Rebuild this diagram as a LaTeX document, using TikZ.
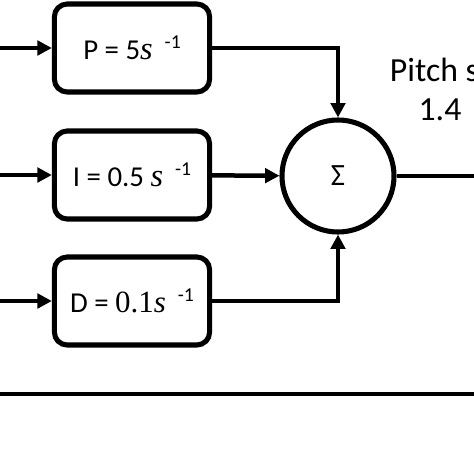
\documentclass[tikz,border=0pt]{standalone}
\usepackage{fontspec}
\setmainfont{Carlito}
\newfontfamily\cambriafont{Liberation Serif}
\usetikzlibrary{arrows.meta}

\newcommand{\sunit}[1]{{\cambriafont\fontsize{23}{23}\selectfont\itshape #1}}
\newcommand{\invexp}{\hspace{0.3cm}\raisebox{0.27cm}{\fontsize{14}{14}\selectfont -1}}

\begin{document}
\begin{tikzpicture}[x=0.025cm, y=-0.025cm, line width=3.2pt,
    gainbox/.style={draw, line width=3.6pt, rounded corners=0.32cm,
        minimum width=3.88cm, minimum height=2.2cm, inner sep=0pt,
        font=\fontsize{20.5}{22}\selectfont},
    sumnode/.style={draw, circle, line width=3.6pt, minimum size=2.8cm,
        inner sep=0pt, font=\fontsize{22}{24}\selectfont},
    sig/.style={-{Triangle[length=0.36cm, width=0.36cm]}}]
    \useasboundingbox (0, 0) rectangle (474, 474);

    % gain blocks
    \node[gainbox] (pgain) at (132, 48)  {P = 5\sunit{s}\invexp};
    \node[gainbox] (igain) at (132, 175) {I = 0.5 \sunit{s}\invexp};
    \node[gainbox] (dgain) at (132, 301) {D = {\cambriafont\fontsize{22}{22}\selectfont 0.1\itshape s}\invexp};

    % summing junction
    \node[sumnode] (sum) at (338, 176) {Σ};

    % inputs
    \coordinate (pin) at (0, 48);
    \coordinate (iin) at (0, 175);
    \coordinate (din) at (0, 301);
    \draw[sig] (pin) -- (pgain);
    \draw[sig] (iin) -- (igain);
    \draw[sig] (din) -- (dgain);

    % into the sum
    \draw[sig] (pgain.east) -| (sum.north);
    \draw[sig] (igain) -- (sum);
    \draw[sig] (dgain.east) -| (sum.south);

    % output
    \coordinate (out) at (474, 176);
    \draw (sum) -- (out);

    % label
    \node[anchor=west, font=\fontsize{24}{26}\selectfont] (pitchlbl) at (383, 70) {Pitch s};
    \node[font=\fontsize{24}{26}\selectfont] (pitchval) at (440, 110) {1.4};

    % bottom rule
    \coordinate (ruleL) at (0, 394);
    \coordinate (ruleR) at (474, 394);
    \draw (ruleL) -- (ruleR);
\end{tikzpicture}
\end{document}
